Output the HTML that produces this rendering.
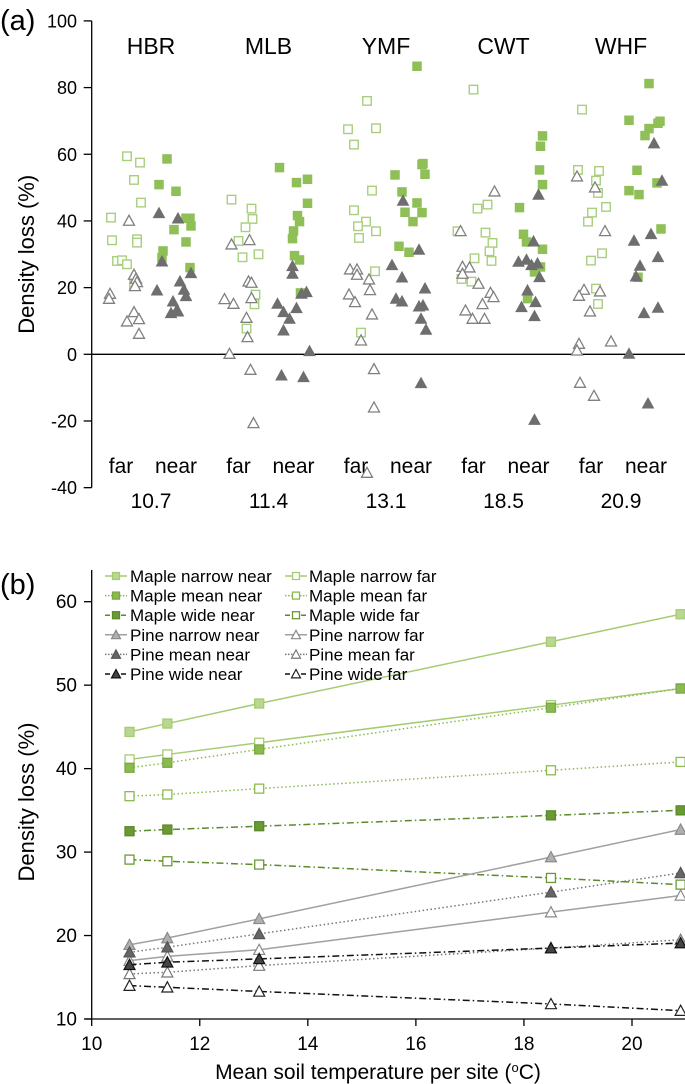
<!DOCTYPE html>
<html><head><meta charset="utf-8"><style>
html,body{margin:0;padding:0;background:#fff;}
svg{display:block;font-family:"Liberation Sans",Arial,sans-serif;}
</style></head><body>
<svg id="chart" width="685" height="1084" viewBox="0 0 685 1084" xmlns="http://www.w3.org/2000/svg">
<g id="pa"></g>
<g id="pb"></g>
</svg>
<script>
// ===== Panel (a) data =====
const sites = ["HBR","MLB","YMF","CWT","WHF"];
const siteTemps = ["10.7","11.4","13.1","18.5","20.9"];
const yTicksA = [-40,-20,0,20,40,60,80,100];
// each point: [jitter offset from site centre, density loss %]
const mapleFar = [
 [[-23,59.4],[-10,57.5],[-16,52.3],[-9,45.5],[-39,41],[-38,34.2],[-13,34.5],[-13,33.5],[-33,28],[-28,28.2],[-23,27],[-16,20.9]],
 [[-36,46.4],[-16,43.7],[-15,40.6],[-22,38.1],[-29,34],[-25,29.1],[-9,30],[-12,17.9],[-13,15],[-21,7.7]],
 [[-18,76],[-37,67.5],[-9,67.8],[-31,62.9],[-13,49.1],[-31,43.2],[-19,39.8],[-27,38.4],[-9,36.9],[-26,34.9],[-10,24.9],[-24,6.5]],
 [[-29,79.4],[-25,43.7],[-15,44.9],[-45,36.9],[-17,36.5],[-10,33.4],[-13,30.9],[-11,28],[-28,28.8],[-41,22.6],[-31,21.8]],
 [[-38,73.4],[-42,55.3],[-21,55],[-24,52.1],[-22,48.4],[-14,44.2],[-28,42.5],[-32,39.8],[-18,30.3],[-29,28.1],[-24,19.7],[-22,15.1]]
];
const pineFar = [
 [[-21,40.2],[-16,24],[-14,22.8],[-13,21.8],[-15,20.6],[-40,18.3],[-41,16.8],[-16,12.8],[-23,10],[-11,10.7],[-11,6.3]],
 [[-36,33.1],[-18,34.4],[-19,22],[-16,21.6],[-16,17],[-43,16.7],[-34,15.3],[-21,11.1],[-20,5.3],[-38,0.3],[-17,-4.5],[-14,-20.5]],
 [[-35,25.6],[-28,25.6],[-28,24],[-16,22.6],[-15,19.4],[-36,18.1],[-30,15.8],[-13,12.1],[-24,4.3],[-11,-4.3],[-11,-15.8],[-18,-35.4]],
 [[-8,49],[-42,37.1],[-40,26.4],[-33,26.2],[-40,24.3],[-24,21.3],[-12,18.6],[-9,17.3],[-20,15.2],[-37,13.3],[-30,10.8],[-18,10.8]],
 [[-43,53.5],[-25,50.2],[-15,37.1],[-36,19.5],[-41,17.7],[-20,19],[-30,13],[-9,4],[-41,3.3],[-43,1.3],[-40,-8.4],[-26,-12.3]]
];
const mapleNear = [
 [[17,58.6],[9,50.9],[26,48.9],[36,40.8],[40,40.8],[24,37.4],[41,38.5],[36,33.7],[13,31],[12,29],[40,26]],
 [[12,56],[29,51.5],[40,52.5],[40,45.3],[30,41.6],[32,39.8],[26,37],[25,34.7],[27,29.6],[32,28.3],[33,18.4]],
 [[32,86.4],[37,56.9],[38,57.2],[40,54],[10,53.8],[17,48.7],[32,45.4],[20,42.6],[37,42.5],[28,39.8],[14,32.4],[24,30.6]],
 [[40,65.5],[38,62.4],[37,55.3],[40,50.9],[17,44],[21,36],[24,33.7],[40,31.5],[38,26.2],[32,24.7],[25,16.7]],
 [[29,81.2],[9,70.2],[40,69.9],[38,69.3],[29,67.7],[25,65.6],[17,55.2],[37,51.4],[9,49.1],[19,47.9],[41,37.6],[18,23.1]]
];
const pineNear = [
 [[9,42.5],[28,40.9],[12,28],[7,19.3],[41,24.5],[30,22],[34,19.5],[36,17.6],[23,16],[21,12.5],[27,13.5],[28,13]],
 [[25,26.6],[25,24.3],[39,18.8],[34,18.3],[10,15.3],[16,12.8],[29,14],[22,10.8],[16,7.3],[42,1.1],[14,-6.2],[36,-6.7]],
 [[18,46.2],[34,31.5],[7,26.9],[17,23.2],[40,19.9],[11,16.8],[17,16],[34,14.5],[38,14.8],[36,10.8],[41,7.5],[36,-8.5]],
 [[36,48],[31,34],[16,27.9],[24,28.5],[29,26.9],[35,27.4],[37,23.3],[25,19.3],[33,15.8],[19,14.3],[32,11.6],[32,-19.5]],
 [[34,63.4],[42,52.2],[31,36.2],[14,34.2],[38,29.3],[20,26.7],[16,23.5],[38,14.1],[24,12.5],[9,0.3],[28,-14.6]]
];

// ===== Panel (b) data =====
const temps = [10.7,11.4,13.1,18.5,20.9];
const xTicksB = [10,12,14,16,18,20];
const yTicksB = [10,20,30,40,50,60];
const seriesNames = ["Maple narrow near","Maple narrow far","Maple mean near","Maple mean far","Maple wide near","Maple wide far","Pine narrow near","Pine narrow far","Pine mean near","Pine mean far","Pine wide near","Pine wide far"];
const mapleNarrowNear = [44.4,45.4,47.8,55.2,58.5];
const mapleNarrowFar  = [41.1,41.7,43.1,47.6,49.6];
const mapleMeanNear   = [40.1,40.7,42.3,47.3,49.6];
const mapleMeanFar    = [36.7,36.9,37.6,39.8,40.8];
const mapleWideNear   = [32.5,32.7,33.1,34.4,35.0];
const mapleWideFar    = [29.1,28.9,28.5,26.9,26.1];
const pineNarrowNear  = [18.9,19.7,22.0,29.4,32.7];
const pineNarrowFar   = [17.0,17.5,18.3,22.8,24.8];
const pineMeanNear    = [18.0,18.6,20.2,25.2,27.5];
const pineMeanFar     = [15.4,15.6,16.4,18.5,19.5];
const pineWideNear    = [16.5,16.8,17.2,18.5,19.1];
const pineWideFar     = [14.0,13.8,13.3,11.8,11.0];

const NS="http://www.w3.org/2000/svg";
function mk(parent,tag,attrs,text){const e=document.createElementNS(NS,tag);for(const k in attrs)e.setAttribute(k,attrs[k]);if(text!==undefined)e.textContent=text;parent.appendChild(e);return e;}

// ---------- Panel A ----------
const pa=document.getElementById('pa');
const AX=91.7;
const yA=v=>354.3-v*3.334;
const siteX=i=>151+i*117.5;
let t=mk(pa,'text',{x:0,y:30,'font-size':29});t.textContent='(a)';


let ax=mk(pa,'line',{x1:AX,y1:yA(100),x2:AX,y2:yA(-40),stroke:'#000','stroke-width':1.3});


let zl=mk(pa,'line',{x1:AX,y1:yA(0),x2:685,y2:yA(0),stroke:'#000','stroke-width':1.3});


yTicksA.forEach(v=>{
  mk(pa,'line',{x1:AX-8,y1:yA(v),x2:AX,y2:yA(v),stroke:'#000','stroke-width':1.3});
  const l=mk(pa,'text',{x:77,y:yA(v)+6.5,'font-size':18,'text-anchor':'end'},String(v));
  
  
});
let yt=mk(pa,'text',{x:0,y:0,'font-size':22,'text-anchor':'middle',transform:`translate(34,${yA(30)}) rotate(-90)`},'Density loss (%)');


function sq(g,x,y,filled){const s=8.5;return mk(g,'rect',{x:x-s/2,y:y-s/2,width:s,height:s,fill:filled?'#8fbf57':'#fff',stroke:filled?'#8fbf57':'#a9cf7e','stroke-width':filled?1:1.4});}
function tri(g,x,y,filled,fc,sc){const w=11,h=10;return mk(g,'polygon',{points:`${x-w/2},${y+h/2} ${x+w/2},${y+h/2} ${x},${y-h/2}`,fill:filled?(fc||'#6e6e6e'):'#fff',stroke:filled?(sc||fc||'#6e6e6e'):(sc||'#808080'),'stroke-width':filled?1:1.3});}
sites.forEach((s,i)=>{
  const cx=siteX(i);
  const g=mk(pa,'g',{});
  
  
  const n=mk(g,'text',{x:cx,y:54,'font-size':23,'text-anchor':'middle'},s);
  
  
  const f=mk(g,'text',{x:cx-30,y:473,'font-size':21,'text-anchor':'middle'},'far');
  
  
  const nr=mk(g,'text',{x:cx+25,y:473,'font-size':21,'text-anchor':'middle'},'near');
  
  
  const tt=mk(g,'text',{x:cx,y:508,'font-size':21,'text-anchor':'middle'},siteTemps[i]);
  
  
  mapleFar[i].forEach(p=>{const e=sq(g,cx-1+p[0],yA(p[1]),false);
    
    });
  pineFar[i].forEach(p=>{const e=tri(g,cx-1+p[0],yA(p[1]),false);
    
    });
  mapleNear[i].forEach(p=>{const e=sq(g,cx-1+p[0],yA(p[1]),true);
    
    });
  pineNear[i].forEach(p=>{const e=tri(g,cx-1+p[0],yA(p[1]),true);
    
    });
});

// ---------- Panel B ----------
const pb=document.getElementById('pb');
const xB=v=>91.7+(v-10)*54.03;
const yB=v=>1019-(v-10)*8.346;
let tb=mk(pb,'text',{x:0,y:594,'font-size':29},'(b)');


let axb=mk(pb,'line',{x1:91.7,y1:570,x2:91.7,y2:1019,stroke:'#000','stroke-width':1.3});


let axx=mk(pb,'line',{x1:85,y1:1019,x2:685,y2:1019,stroke:'#000','stroke-width':1.3});


yTicksB.forEach(v=>{
  mk(pb,'line',{x1:84,y1:yB(v),x2:91.7,y2:yB(v),stroke:'#000','stroke-width':1.3});
  const l=mk(pb,'text',{x:77,y:yB(v)+6.5,'font-size':19,'text-anchor':'end'},String(v));
  
  
});
xTicksB.forEach(v=>{
  mk(pb,'line',{x1:xB(v),y1:1019,x2:xB(v),y2:1026,stroke:'#000','stroke-width':1.3});
  const l=mk(pb,'text',{x:xB(v),y:1050,'font-size':19,'text-anchor':'middle'},String(v));
  
  
});
let ytb=mk(pb,'text',{x:0,y:0,'font-size':22,'text-anchor':'middle',transform:`translate(34,${yB(36)}) rotate(-90)`},'Density loss (%)');


let xtb=mk(pb,'text',{x:378,y:1079,'font-size':21,'text-anchor':'middle'},'Mean soil temperature per site (');


mk(xtb,'tspan',{'font-size':13,dy:-7},'o');
mk(xtb,'tspan',{dy:7},'C)');

const dotted='1.5 2.5', dashdot='7 3 1.5 3';
const styles=[
 {vals:mapleNarrowNear,line:'#a5cc73',dash:null,shape:'sq',fill:'#b9d78f',stroke:'#a5cc73'},
 {vals:mapleNarrowFar,line:'#a5cc73',dash:null,shape:'sq',fill:'#fff',stroke:'#a5cc73'},
 {vals:mapleMeanNear,line:'#8bbb4f',dash:dotted,shape:'sq',fill:'#8bbb4f',stroke:'#7aa844'},
 {vals:mapleMeanFar,line:'#8bbb4f',dash:dotted,shape:'sq',fill:'#fff',stroke:'#8bbb4f'},
 {vals:mapleWideNear,line:'#5a8a2a',dash:dashdot,shape:'sq',fill:'#6b9a35',stroke:'#5a8a2a'},
 {vals:mapleWideFar,line:'#5a8a2a',dash:dashdot,shape:'sq',fill:'#fff',stroke:'#6b9a35'},
 {vals:pineNarrowNear,line:'#a0a0a0',dash:null,shape:'tri',fill:'#b0b0b0',stroke:'#8a8a8a'},
 {vals:pineNarrowFar,line:'#a0a0a0',dash:null,shape:'tri',fill:'#fff',stroke:'#8a8a8a'},
 {vals:pineMeanNear,line:'#777',dash:dotted,shape:'tri',fill:'#666',stroke:'#555'},
 {vals:pineMeanFar,line:'#777',dash:dotted,shape:'tri',fill:'#fff',stroke:'#777'},
 {vals:pineWideNear,line:'#111',dash:dashdot,shape:'tri',fill:'#444',stroke:'#111'},
 {vals:pineWideFar,line:'#111',dash:dashdot,shape:'tri',fill:'#fff',stroke:'#222'}
];
function marker(g,shape,x,y,fill,stroke,s){
  if(shape==='sq'){s=s||9;return mk(g,'rect',{x:x-s/2,y:y-s/2,width:s,height:s,fill:fill,stroke:stroke,'stroke-width':1.3});}
  s=s||11;return mk(g,'polygon',{points:`${x-s/2},${y+s*0.43} ${x+s/2},${y+s*0.43} ${x},${y-s*0.5}`,fill:fill,stroke:stroke,'stroke-width':1.2});
}
styles.forEach((st,k)=>{
  const g=mk(pb,'g',{});
  
  
  const pts=st.vals.map((v,i)=>xB(temps[i])+','+yB(v)).join(' ');
  const a={points:pts,fill:'none',stroke:st.line,'stroke-width':1.5};
  if(st.dash)a['stroke-dasharray']=st.dash;
  const pl=mk(g,'polyline',a);
  
  
  st.vals.forEach((v,i)=>{const m=marker(g,st.shape,xB(temps[i]),yB(v),st.fill,st.stroke);
    
    });
});
// legend
const lg=mk(pb,'g',{});


styles.forEach((st,k)=>{
  const col=k%2, row=Math.floor(k/2);
  const x0=col?285:105, y0=576+row*19.6, tx=col?309:130;
  const e=mk(lg,'g',{});
  
  
  const a={x1:x0,y1:y0,x2:x0+22,y2:y0,stroke:st.line,'stroke-width':1.5};
  if(st.dash)a['stroke-dasharray']=st.dash==='1.5 2.5'?'1.5 1.5':'5 3';
  mk(e,'line',a);
  marker(e,st.shape,x0+11,y0,st.fill,st.stroke,st.shape==='sq'?7:9);
  mk(e,'text',{x:tx,y:y0+6,'font-size':17},seriesNames[k]);
});
</script>
</body></html>
